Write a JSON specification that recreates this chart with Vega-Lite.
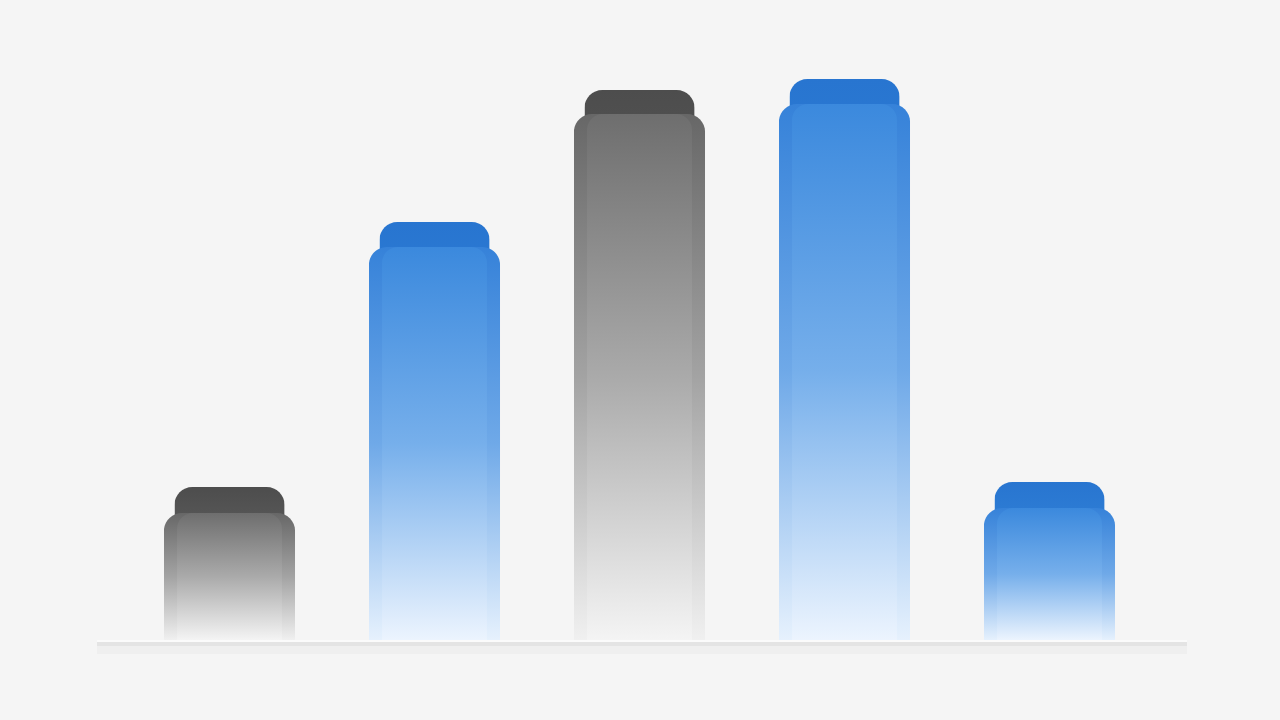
{
  "$schema": "https://vega.github.io/schema/vega-lite/v6.json",
  "width": 1025,
  "height": 640,
  "autosize": "none",
  "padding": {"left": 127, "top": 0, "right": 128, "bottom": 80},
  "background": "#f5f5f5",
  "config": {"view": {"stroke": null}},
  "data": {
    "values": [
      {"bar": "A", "value": 153, "face": 127, "tone": "gray"},
      {"bar": "B", "value": 418, "face": 393, "tone": "blue"},
      {"bar": "C", "value": 550, "face": 526, "tone": "gray"},
      {"bar": "D", "value": 561, "face": 536, "tone": "blue"},
      {"bar": "E", "value": 158, "face": 132, "tone": "blue"}
    ]
  },
  "encoding": {
    "x": {
      "field": "bar",
      "type": "nominal",
      "axis": null,
      "scale": {"domain": ["A", "B", "C", "D", "E"], "paddingInner": 0.36, "paddingOuter": 0.18}
    }
  },
  "layer": [
    {
      "mark": {"type": "rule", "color": "#efefef", "strokeWidth": 12, "yOffset": 8},
      "encoding": {"x": {"value": -30}, "x2": {"value": 1060}, "y": {"value": 640}}
    },
    {
      "mark": {"type": "rule", "color": "#e4e4e4", "strokeWidth": 3, "yOffset": 4},
      "encoding": {"x": {"value": -30}, "x2": {"value": 1060}, "y": {"value": 640}}
    },
    {
      "mark": {"type": "rule", "color": "#fbfbfb", "strokeWidth": 2, "yOffset": 1},
      "encoding": {"x": {"value": -30}, "x2": {"value": 1060}, "y": {"value": 640}}
    },
    {
      "transform": [{"filter": "datum.tone == 'gray'"}],
      "mark": {
        "type": "bar",
        "width": {"band": 0.84},
        "cornerRadiusTopLeft": 18,
        "cornerRadiusTopRight": 18,
        "color": {
          "gradient": "linear", "x1": 0, "y1": 0, "x2": 0, "y2": 1,
          "stops": [
            {"offset": 0, "color": "#4d4d4d"},
            {"offset": 0.3, "color": "#5a5a5a"},
            {"offset": 1, "color": "#dcdcdc"}
          ]
        }
      },
      "encoding": {
        "y": {"field": "value", "type": "quantitative", "axis": null, "scale": {"domain": [0, 640], "nice": false}}
      }
    },
    {
      "transform": [{"filter": "datum.tone == 'blue'"}],
      "mark": {
        "type": "bar",
        "width": {"band": 0.84},
        "cornerRadiusTopLeft": 18,
        "cornerRadiusTopRight": 18,
        "color": {
          "gradient": "linear", "x1": 0, "y1": 0, "x2": 0, "y2": 1,
          "stops": [
            {"offset": 0, "color": "#2875d0"},
            {"offset": 0.3, "color": "#2f7fd6"},
            {"offset": 1, "color": "#cfe3f8"}
          ]
        }
      },
      "encoding": {
        "y": {"field": "value", "type": "quantitative", "axis": null, "scale": {"domain": [0, 640], "nice": false}}
      }
    },
    {
      "transform": [{"filter": "datum.tone == 'gray'"}],
      "mark": {
        "type": "bar",
        "cornerRadiusTopLeft": 18,
        "cornerRadiusTopRight": 18,
        "color": {
          "gradient": "linear", "x1": 0, "y1": 0, "x2": 0, "y2": 1,
          "stops": [
            {"offset": 0, "color": "#676767"},
            {"offset": 0.5, "color": "#a3a3a3"},
            {"offset": 1, "color": "#f0f0f0"}
          ]
        }
      },
      "encoding": {
        "y": {"field": "face", "type": "quantitative", "axis": null, "scale": {"domain": [0, 640], "nice": false}}
      }
    },
    {
      "transform": [{"filter": "datum.tone == 'blue'"}],
      "mark": {
        "type": "bar",
        "cornerRadiusTopLeft": 18,
        "cornerRadiusTopRight": 18,
        "color": {
          "gradient": "linear", "x1": 0, "y1": 0, "x2": 0, "y2": 1,
          "stops": [
            {"offset": 0, "color": "#3682d9"},
            {"offset": 0.5, "color": "#6fa9e8"},
            {"offset": 1, "color": "#e6f1fd"}
          ]
        }
      },
      "encoding": {
        "y": {"field": "face", "type": "quantitative", "axis": null, "scale": {"domain": [0, 640], "nice": false}}
      }
    },
    {
      "transform": [{"filter": "datum.tone == 'gray'"}],
      "mark": {
        "type": "bar",
        "width": {"band": 0.8},
        "cornerRadiusTopLeft": 16,
        "cornerRadiusTopRight": 16,
        "color": {
          "gradient": "linear", "x1": 0, "y1": 0, "x2": 0, "y2": 1,
          "stops": [
            {"offset": 0, "color": "#6e6e6e"},
            {"offset": 0.5, "color": "#aaaaaa"},
            {"offset": 1, "color": "#f4f4f4"}
          ]
        }
      },
      "encoding": {
        "y": {"field": "face", "type": "quantitative", "axis": null, "scale": {"domain": [0, 640], "nice": false}}
      }
    },
    {
      "transform": [{"filter": "datum.tone == 'blue'"}],
      "mark": {
        "type": "bar",
        "width": {"band": 0.8},
        "cornerRadiusTopLeft": 16,
        "cornerRadiusTopRight": 16,
        "color": {
          "gradient": "linear", "x1": 0, "y1": 0, "x2": 0, "y2": 1,
          "stops": [
            {"offset": 0, "color": "#3b89dd"},
            {"offset": 0.5, "color": "#76afeb"},
            {"offset": 1, "color": "#ecf4fe"}
          ]
        }
      },
      "encoding": {
        "y": {"field": "face", "type": "quantitative", "axis": null, "scale": {"domain": [0, 640], "nice": false}}
      }
    }
  ]
}
